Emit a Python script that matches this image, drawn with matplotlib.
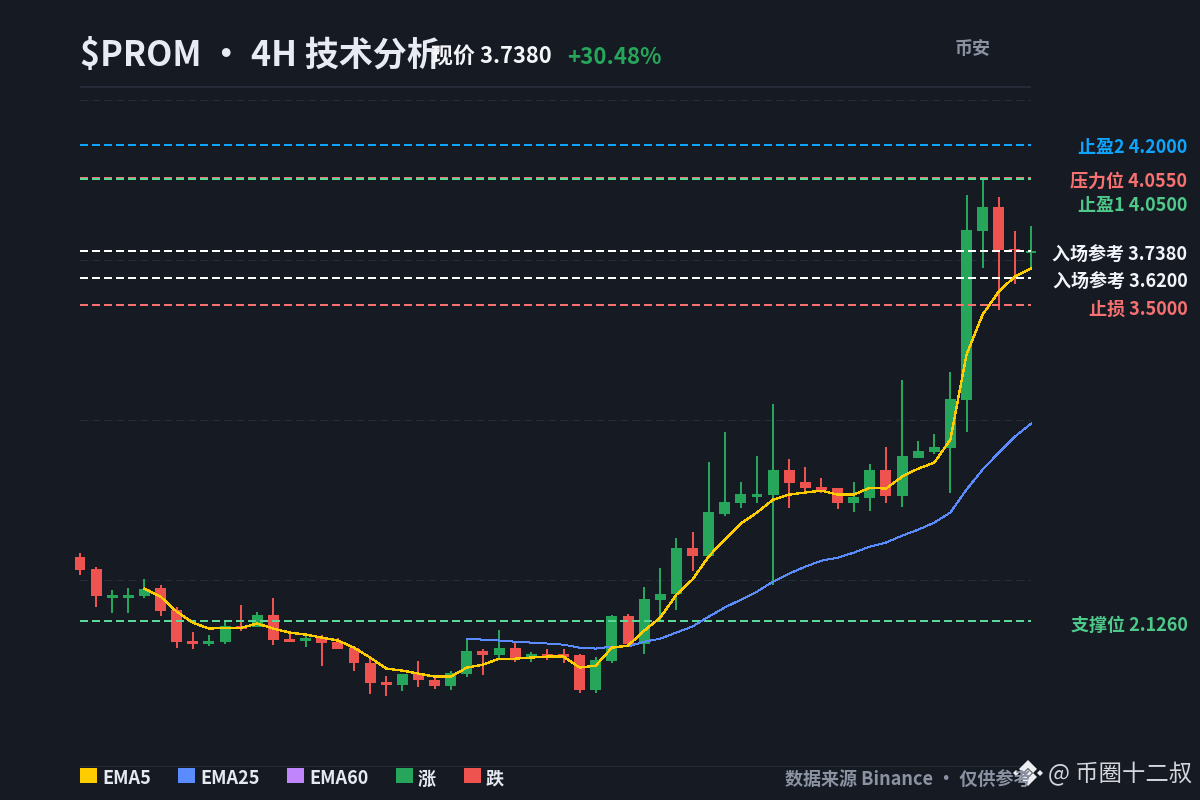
# Libraries
import numpy as np
import matplotlib
matplotlib.use('Agg')
import matplotlib.pyplot as plt
from matplotlib.patches import Rectangle, Polygon

# Plot parameters
plt.rcParams.update({
    'font.family': ['Noto Sans CJK SC', 'DejaVu Sans'],
    'font.size': 13,
    'axes.unicode_minus': False,
})

# Candles
opens = [2.405, 2.352, 2.226, 2.226, 2.235, 2.270, 2.174, 2.039, 2.026, 2.034,
         2.104, 2.100, 2.152, 2.047, 2.039, 2.056, 2.034, 2.008, 1.943, 1.860,
         1.847, 1.895, 1.869, 1.843, 1.895, 1.995, 1.978, 2.008, 1.965, 1.982,
         1.982, 1.978, 1.825, 1.952, 2.148, 2.026, 2.217, 2.243, 2.444, 2.409,
         2.592, 2.640, 2.666, 2.675, 2.780, 2.732, 2.710, 2.705, 2.640, 2.662,
         2.784, 2.671, 2.836, 2.862, 2.880, 3.089, 3.825, 3.930, 3.747, 3.729]
closes = [2.348, 2.235, 2.239, 2.239, 2.265, 2.169, 2.034, 2.026, 2.039, 2.104,
          2.091, 2.152, 2.043, 2.034, 2.052, 2.030, 2.004, 1.939, 1.856, 1.847,
          1.895, 1.865, 1.843, 1.899, 1.995, 1.978, 2.008, 1.960, 1.982, 1.969,
          1.969, 1.825, 1.956, 2.148, 2.026, 2.222, 2.243, 2.444, 2.409, 2.597,
          2.644, 2.679, 2.679, 2.784, 2.727, 2.705, 2.697, 2.640, 2.666, 2.784,
          2.671, 2.841, 2.867, 2.884, 3.093, 3.830, 3.930, 3.742, 3.742, 3.738]
highs = [2.422, 2.361, 2.261, 2.270, 2.309, 2.283, 2.187, 2.078, 2.061, 2.130,
         2.196, 2.165, 2.226, 2.078, 2.061, 2.061, 2.052, 2.017, 1.965, 1.886,
         1.895, 1.952, 1.878, 1.908, 2.047, 2.000, 2.087, 2.030, 1.991, 2.004,
         2.000, 1.982, 1.969, 2.152, 2.156, 2.274, 2.357, 2.488, 2.514, 2.819,
         2.949, 2.732, 2.841, 3.071, 2.832, 2.797, 2.749, 2.705, 2.732, 2.810,
         2.884, 3.176, 2.910, 2.941, 3.207, 3.982, 4.056, 3.973, 3.825, 3.847]
lows = [2.326, 2.187, 2.161, 2.161, 2.226, 2.148, 2.008, 2.000, 2.017, 2.026,
        2.082, 2.100, 2.021, 2.034, 2.013, 1.926, 2.000, 1.908, 1.808, 1.799,
        1.821, 1.838, 1.830, 1.825, 1.882, 1.891, 1.960, 1.947, 1.947, 1.956,
        1.943, 1.812, 1.812, 1.939, 2.017, 1.982, 2.130, 2.174, 2.344, 2.409,
        2.583, 2.618, 2.640, 2.283, 2.618, 2.684, 2.684, 2.614, 2.601, 2.605,
        2.640, 2.623, 2.836, 2.854, 2.684, 2.949, 3.664, 3.481, 3.594, 3.664]

# Moving averages (EMA5 starts at candle 4, EMA25 at candle 24, EMA60 has no data)
ema5 = [2.265, 2.230, 2.165, 2.117, 2.091, 2.095, 2.095, 2.113, 2.091, 2.074,
        2.065, 2.052, 2.039, 2.008, 1.965, 1.917, 1.908, 1.895, 1.882, 1.882,
        1.921, 1.934, 1.960, 1.960, 1.965, 1.969, 1.969, 1.921, 1.930, 2.008,
        2.017, 2.082, 2.139, 2.239, 2.305, 2.405, 2.479, 2.549, 2.597, 2.653,
        2.675, 2.684, 2.692, 2.675, 2.675, 2.705, 2.701, 2.753, 2.788, 2.814,
        2.915, 3.285, 3.459, 3.560, 3.625, 3.660]
ema25 = [2.047, 2.043, 2.039, 2.034, 2.030, 2.026, 2.021, 2.008, 2.004, 2.013,
         2.013, 2.034, 2.047, 2.074, 2.100, 2.143, 2.183, 2.217, 2.252, 2.296,
         2.331, 2.361, 2.387, 2.400, 2.422, 2.448, 2.466, 2.496, 2.522, 2.553,
         2.597, 2.697, 2.784, 2.858, 2.928, 2.984]

# Levels
level_prices = [2.126, 3.5, 3.62, 3.738, 4.055, 4.05, 4.2]
level_colors = ['#5ad898', '#f87171', '#ffffff', '#ffffff', '#f87171', '#5ad898', '#0ea5ff']
grid_prices = [1.6074, 2.3046, 3.0017, 3.699, 4.3961]

label_texts = ['止盈2 4.2000', '压力位 4.0550', '止盈1 4.0500', '入场参考 3.7380',
               '入场参考 3.6200', '止损 3.5000', '支撑位 2.1260']
label_colors = ['#0ea5ff', '#f87171', '#4fc98a', '#f3f5fa', '#f3f5fa', '#f87171', '#4fc98a']
label_rows = [148, 181, 205, 254, 281, 309, 625]

legend_names = ['EMA5', 'EMA25', 'EMA60', '涨', '跌']
legend_colors = ['#ffcc00', '#5b8cff', '#c084fc', '#26a65b', '#ef5350']
legend_boxes = [80, 178, 287, 396, 464]

bg = '#151a23'
up, down = '#26a65b', '#ef5350'

fig = plt.figure(figsize=(12, 8), dpi=100, facecolor=bg)
ax = fig.add_axes([80 / 1200, 60.4 / 800, 951 / 1200, 640 / 800], facecolor=bg)
ax.set_xlim(0, 59)
ax.set_ylim(1.6074, 4.3961)


def ftext(x, y, s, **kw):
    # text placed in picture pixels
    kw.setdefault('va', 'center')
    fig.text(x / 1200, 1 - y / 800, s, **kw)


def fbox(x, y, w, h, color):
    fig.patches.append(Rectangle((x / 1200, 1 - (y + h) / 800), w / 1200, h / 800, color=color,
                                 lw=0, transform=fig.transFigure))


# Grid
ax.set_xticks([])
ax.set_yticks(grid_prices)
ax.tick_params(length=0, labelleft=False)
ax.grid(axis='y', color='#252b38', lw=0.72, linestyle=(0, (8, 4)))
ax.set_axisbelow(True)
for s in ax.spines.values():
    s.set_visible(False)

# Candlesticks
idx = np.arange(len(opens))
o, c, h, l = map(np.array, (opens, closes, highs, lows))
colors = np.where(c >= o, up, down)
ax.vlines(idx, l, h, colors=colors, lw=1.44, zorder=2, clip_on=False)
ax.bar(idx, np.abs(c - o), bottom=np.minimum(o, c), width=0.68, color=colors, zorder=3, clip_on=False)

# Levels
for price, col in zip(level_prices, level_colors):
    ax.axhline(price, color=col, lw=1.44, linestyle=(0, (4, 2)), zorder=4)

# EMA lines
ax.plot(idx[24:], ema25, color='#5b8cff', lw=0.7, zorder=5, clip_on=False, antialiased=False)
ax.plot(idx[4:], ema5, color='#ffcc00', lw=0.95, zorder=6, clip_on=False, antialiased=False)

# Level labels
for txt, col, row in zip(label_texts, label_colors, label_rows):
    ftext(1187.5, row, txt, color=col, ha='right', fontsize=13, fontweight='bold')

# Header
ftext(80, 56, '$PROM • 4H 技术分析', color='#e8ebf4', fontsize=24.5, fontweight='bold')
ftext(431, 57, '现价 3.7380', color='#f5f6fa', fontsize=15.8, fontweight='bold')
ftext(567.5, 57, '+30.48%', color=up, fontsize=16, fontweight='bold')
ftext(954.5, 49, '币安', color='#8b93a3', fontsize=13, fontweight='bold')
fbox(80, 86, 951, 2, '#252a38')

# Footer
fbox(80, 766, 951, 1, '#252a38')
for name, col, x in zip(legend_names, legend_colors, legend_boxes):
    fbox(x, 768, 17, 15, col)
    ftext(x + 22, 779, name, color='#e5e9f2', fontsize=13, fontweight='bold')
ftext(1031, 779, '数据来源 Binance • 仅供参考', color='#8b93a3', ha='right', fontsize=13, fontweight='bold')

# Watermark with diamond logo
logo = [[(1028, 760), (1037, 769), (1033, 773), (1028, 768), (1023, 773), (1019, 769)],
        [(1028, 786), (1037, 777), (1033, 773), (1028, 778), (1023, 773), (1019, 777)],
        [(1028, 769), (1032, 773), (1028, 777), (1024, 773)],
        [(1016, 770), (1019, 773), (1016, 776), (1013, 773)],
        [(1040, 770), (1043, 773), (1040, 776), (1037, 773)]]
for poly in logo:
    pts = [(x / 1200, 1 - y / 800) for x, y in poly]
    fig.patches.append(Polygon(pts, closed=True, color='#eceef2', lw=0, transform=fig.transFigure))
ftext(1048, 774, '@ 币圈十二叔', color='#d5d7dc', fontsize=16.8)

plt.savefig('out.png', dpi=100, facecolor=bg)
